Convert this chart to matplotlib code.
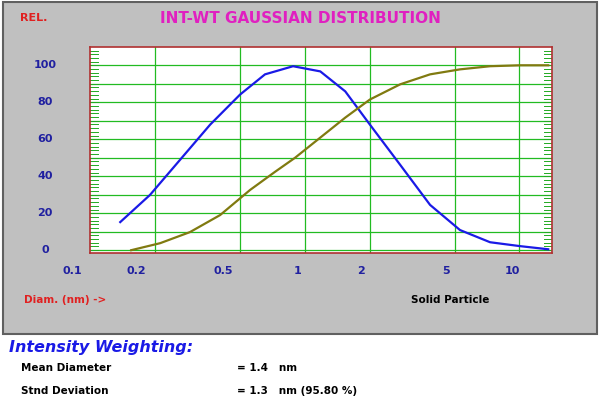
import matplotlib.pyplot as plt
from matplotlib.patches import Rectangle
import matplotlib.transforms as mtransforms

# Intensity-weighted distribution
diam_freq = [0.171, 0.231, 0.313, 0.424, 0.574, 0.738, 0.98, 1.29, 1.66, 2.13,
             2.89, 3.91, 5.29, 7.17, 9.7, 12.9]
freq = [15.2, 29.9, 48.9, 67.9, 84.2, 95.1, 99.5, 96.7, 85.9, 67.9,
        46.2, 24.5, 10.9, 4.3, 2.2, 0.5]
diam_cum = [0.191, 0.256, 0.346, 0.469, 0.635, 0.817, 1.0, 1.29, 1.66, 2.13,
            2.89, 3.91, 5.29, 7.17, 9.7, 12.9]
cum = [0, 3.8, 9.8, 19.0, 32.6, 42.4, 50.0, 60.9, 71.7, 81.5,
       89.7, 95.1, 97.8, 99.5, 100, 100]

x_grid = [0.243, 0.574, 1.106, 2.13, 5.03, 9.6]
x_tick_vals = [0.1, 0.2, 0.5, 1, 2, 5, 10]
x_tick_pos = [0.105, 0.201, 0.485, 1.03, 1.95, 4.6, 9.0]
y_ticks = [0, 20, 40, 60, 80, 100]

fig = plt.figure(figsize=(6, 4.07), dpi=100)
fig.patches.append(Rectangle((0.005, 0.18), 0.99, 0.815, transform=fig.transFigure,
                             facecolor="#c0c0c0", edgecolor="#606060", lw=1.5, zorder=-5))

ax = fig.add_axes([0.15, 0.378, 0.77, 0.507])
ax.set_zorder(2)
ax.set_xscale("log")
ax.set_xlim(0.126, 13.4)
ax.set_ylim(-1.6, 110)
for y in range(0, 110, 10):
    ax.axhline(y, color="#22bb22", lw=0.9, zorder=1)
for x in x_grid:
    ax.axvline(x, color="#22bb22", lw=0.9, zorder=1)
ax.plot(diam_freq, freq, color="#1a1ae6", lw=1.6, zorder=3)
ax.plot(diam_cum, cum, color="#807a10", lw=1.6, zorder=3)

ax.set_xticks([])
ax.set_yticks([])
ax.minorticks_off()
for s in ax.spines.values():
    s.set_color("#b03030")
    s.set_linewidth(1.2)
# hatch marks along left and right edges
for y in range(0, 110, 2):
    ax.plot([0.126, 0.136], [y, y], color="#22aa22", lw=0.7)
    ax.plot([12.4, 13.4], [y, y], color="#22aa22", lw=0.7)

bt = mtransforms.blended_transform_factory(ax.transData, fig.transFigure)
for v, p in zip(x_tick_vals, x_tick_pos):
    ax.text(p, 0.335, str(v), transform=bt, ha="center", va="center",
            color="#2020a0", fontsize=8, fontweight="bold", clip_on=False)
lt = mtransforms.blended_transform_factory(fig.transFigure, ax.transData)
for v in y_ticks:
    ax.text(0.075, v, str(v), transform=lt, ha="center", va="center",
            color="#2020a0", fontsize=8, fontweight="bold", clip_on=False)

fig.text(0.033, 0.955, "REL.", color="#e02020", fontsize=8, fontweight="bold", va="center")
fig.text(0.5, 0.955, "INT-WT GAUSSIAN DISTRIBUTION", color="#e020c0", fontsize=11,
         fontweight="bold", ha="center", va="center")
fig.text(0.04, 0.262, "Diam. (nm) ->", color="#e02020", fontsize=7.5, fontweight="bold", va="center")
fig.text(0.75, 0.262, "Solid Particle", color="black", fontsize=7.5, fontweight="bold",
         ha="center", va="center")
fig.text(0.015, 0.145, "Intensity Weighting:", color="#1a1ae6", fontsize=11.5,
         fontweight="bold", style="italic", va="center")
fig.text(0.035, 0.097, "Mean Diameter", fontsize=7.5, fontweight="bold", va="center")
fig.text(0.395, 0.097, "= 1.4   nm", fontsize=7.5, fontweight="bold", va="center")
fig.text(0.035, 0.04, "Stnd Deviation", fontsize=7.5, fontweight="bold", va="center")
fig.text(0.395, 0.04, "= 1.3   nm (95.80 %)", fontsize=7.5, fontweight="bold", va="center")

fig.savefig("out.png", dpi=100)
